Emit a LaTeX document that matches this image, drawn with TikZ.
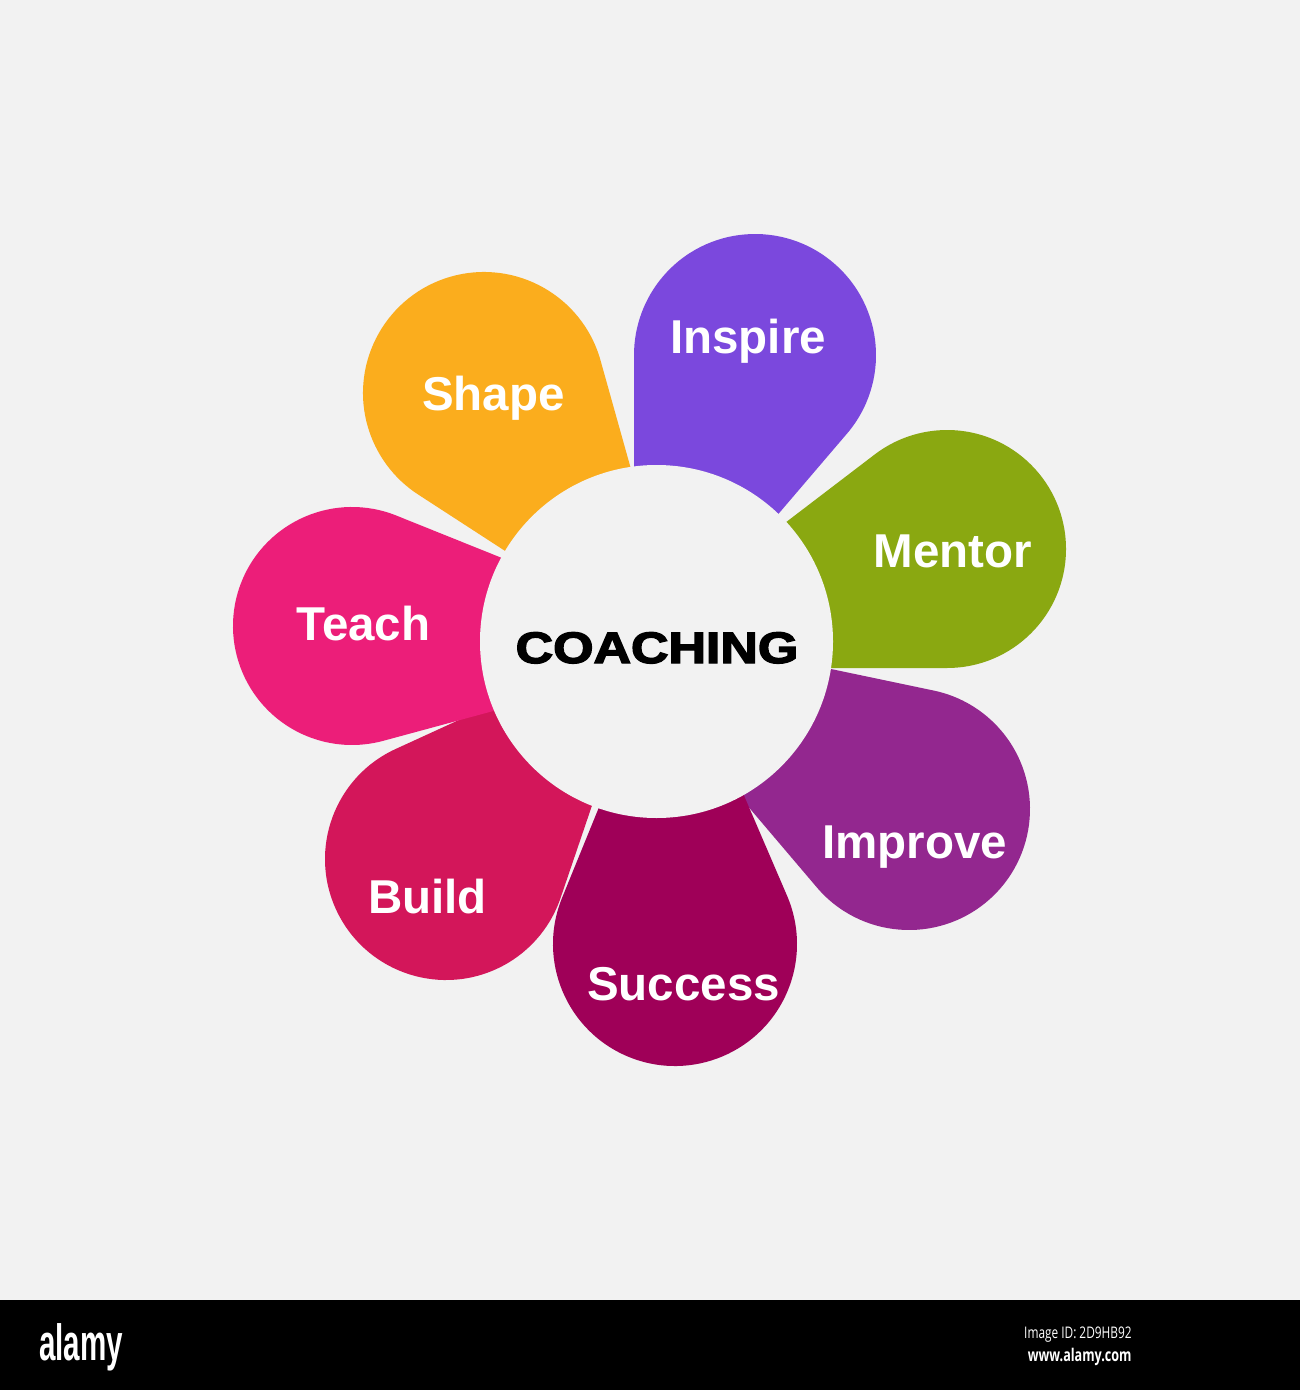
\documentclass[tikz,border=0pt]{standalone}
\usepackage{fontspec}
\usepackage{graphicx}
\setmainfont{Liberation Sans}
\newfontfamily\heavyfont[BoldFeatures={FakeBold=3}]{Liberation Sans}
\newfontfamily\osans{Open Sans}
\usetikzlibrary{calc}
\definecolor{bg}{HTML}{F2F2F2}
\definecolor{cshape}{HTML}{FBAD1D}
\definecolor{cinspire}{HTML}{7B48DD}
\definecolor{cmentor}{HTML}{8AA811}
\definecolor{cimprove}{HTML}{93278F}
\definecolor{csuccess}{HTML}{9F0058}
\definecolor{cbuild}{HTML}{D3165A}
\definecolor{cteach}{HTML}{EC1E79}
% petal: Cx Cy r Tx Ty colour (image pixel coordinates, y downwards)
\newcommand\drawpetal[6]{%
  \pgfmathsetmacro\pdx{(#1-#4)/100}%
  \pgfmathsetmacro\pdy{(#5-#2)/100}%
  \pgfmathsetmacro\pax{atan2(\pdy,\pdx)}%
  \pgfmathsetmacro\phb{asin((#3/100)/veclen(\pdx,\pdy))}%
  \pgfmathsetmacro\psa{\pax-90-\phb}%
  \pgfmathsetmacro\pea{\pax+90+\phb}%
  \fill[#6] (#4,-#5) -- ($(#1,-#2)+(\psa:#3)$) arc[start angle=\psa, end angle=\pea, radius=#3] -- cycle;}
\begin{document}
\begin{tikzpicture}[x=0.5pt,y=0.5pt,
  lbl/.style={text=white, font=\fontsize{23.75pt}{28pt}\selectfont\bfseries, anchor=base, inner sep=0pt},
  bartext/.style={text=white, inner sep=0pt}]
\useasboundingbox (0,0) rectangle (1300,-1390);
\fill[bg] (0,0) rectangle (1300,-1300);
\fill[black] (0,-1300) rectangle (1300,-1390);
% petals
\drawpetal{484}{393}{121}{687}{669}{cshape}
\drawpetal{755}{355}{121}{634}{683}{cinspire}
\drawpetal{947}{549}{119}{595}{668}{cmentor}
\drawpetal{909}{809}{121}{588}{618}{cimprove}
\drawpetal{675}{944}{122}{672}{628}{csuccess}
\drawpetal{446}{859}{121}{651}{632}{cbuild}
\drawpetal{352}{626}{119}{726}{648}{cteach}
% centre
\fill[bg] (656.5,-641.5) circle[radius=176.5];
% labels
\node[lbl] (shape) at (493.5,-410) {Shape};
\node[lbl] (inspire) at (748,-353) {Inspire};
\node[lbl] (mentor) at (953,-567) {Mentor};
\node[lbl] (improve) at (914.5,-858) {Improve};
\node[lbl] (success) at (683.5,-1000) {Success};
\node[lbl] (build) at (427.5,-913) {Build};
\node[lbl] (teach) at (363.5,-640) {Teach};
\node[anchor=base, inner sep=0pt] (coaching) at (657,-663)
  {\scalebox{1.18}[1]{\heavyfont\bfseries\fontsize{22pt}{26pt}\selectfont COACHING}};
% bottom bar
\node[bartext, anchor=base] (logo) at (81,-1360)
  {\scalebox{0.58}[1]{\fontsize{25.5pt}{30pt}\selectfont\bfseries alamy}};
\node[bartext, anchor=base east] (imgid) at (1132,-1338)
  {\scalebox{0.74}[1]{\osans\fontsize{8pt}{10pt}\selectfont Image ID: 2D9HB92}};
\node[bartext, anchor=base east] (www) at (1132,-1361)
  {\scalebox{0.72}[1]{\osans\bfseries\fontsize{8.75pt}{10pt}\selectfont www.alamy.com}};
\end{tikzpicture}
\end{document}
